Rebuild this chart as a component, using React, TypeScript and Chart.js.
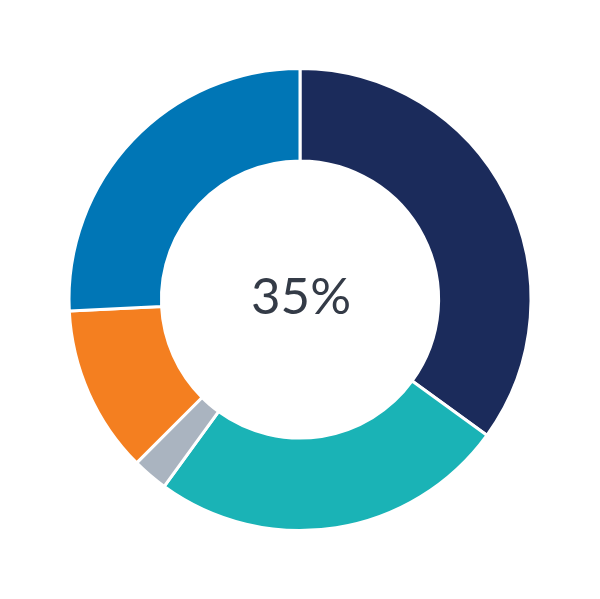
import { useEffect, useRef } from 'react'
import Chart from 'chart.js/auto'

const labels = ['Segment A', 'Segment B', 'Segment C', 'Segment D', 'Segment E']
const values = [35, 25, 2.5, 11.7, 25.8]
const colors = ['#1b2b5b', '#1ab3b6', '#aab4c0', '#f47f20', '#0076b6']
const centerLabel = '35%'

const centerText = {
  id: 'centerText',
  afterDraw(chart: Chart) {
    const { ctx, chartArea } = chart
    const x = (chartArea.left + chartArea.right) / 2
    const y = (chartArea.top + chartArea.bottom) / 2
    ctx.save()
    ctx.font = '400 51px Lato'
    ctx.fillStyle = '#343b47'
    ctx.textAlign = 'center'
    ctx.textBaseline = 'middle'
    ctx.fillText(centerLabel, x + 1, y - 2)
    ctx.restore()
  },
}

export default function App() {
  const chartRef = useRef<HTMLCanvasElement>(null)
  const chartInstance = useRef<Chart | null>(null)

  useEffect(() => {
    document.body.style.margin = '0'
    if (chartRef.current) {
      if (chartInstance.current) {
        chartInstance.current.destroy()
      }
      chartInstance.current = new Chart(chartRef.current, {
        type: 'doughnut',
        data: {
          labels,
          datasets: [
            {
              data: values,
              backgroundColor: colors,
              borderColor: '#ffffff',
              borderWidth: 3,
            },
          ],
        },
        options: {
          animation: false,
          responsive: false,
          cutout: '60%',
          layout: { padding: 67 },
          plugins: {
            legend: { display: false },
            tooltip: { enabled: false },
          },
        },
        plugins: [centerText],
      })
    }
    return () => {
      if (chartInstance.current) {
        chartInstance.current.destroy()
        chartInstance.current = null
      }
    }
  }, [])

  return (
    <div style={{ width: 600, height: 599, background: '#ffffff' }}>
      <canvas ref={chartRef} width={600} height={599}></canvas>
    </div>
  )
}
